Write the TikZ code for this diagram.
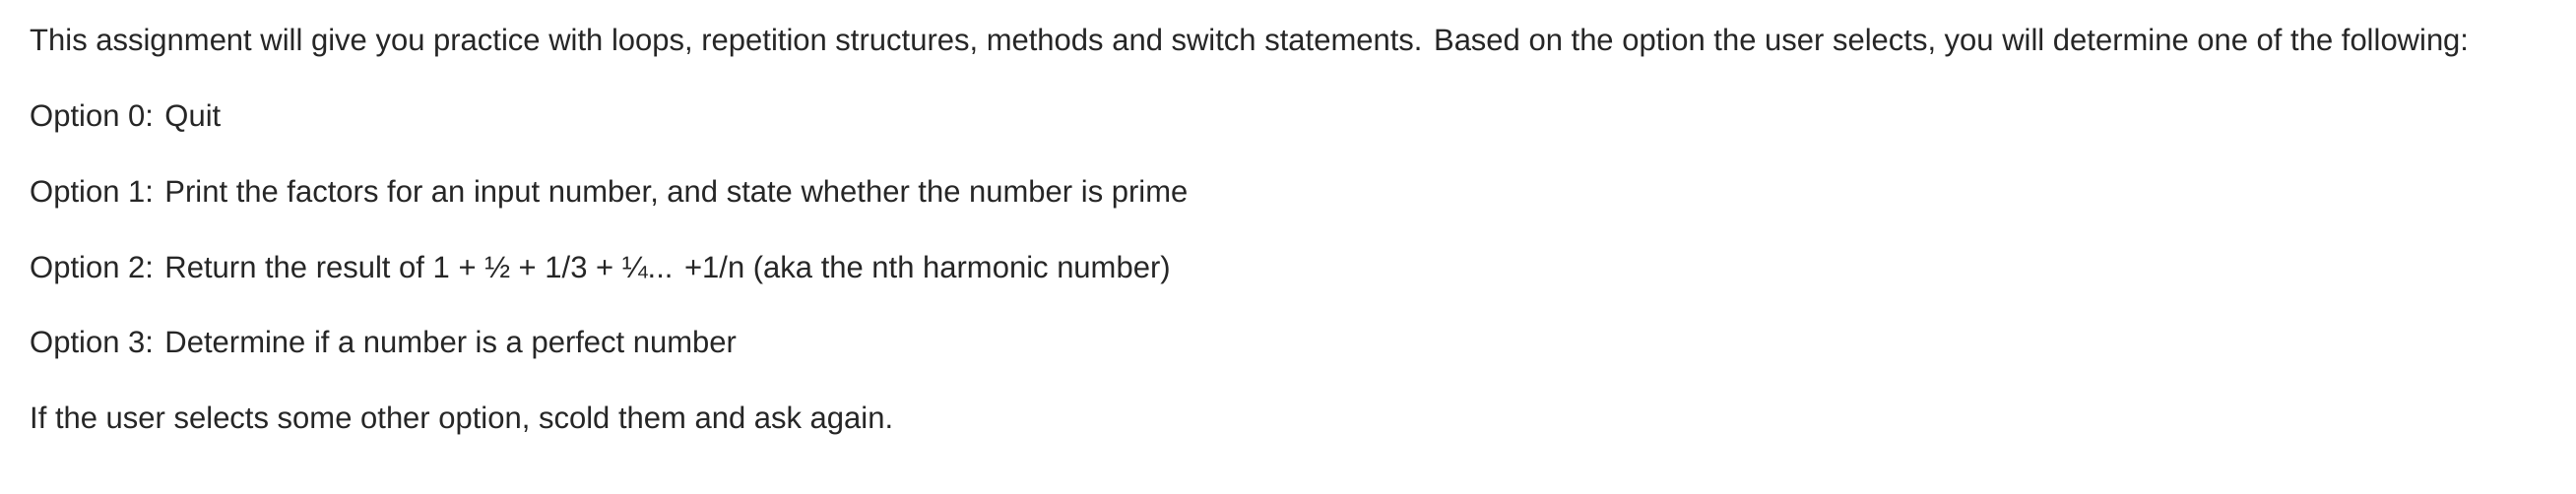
\documentclass[tikz,border=0pt]{standalone}
\usepackage{fontspec}
\setmainfont{Liberation Sans}
\begin{document}
\begin{tikzpicture}[x=1pt,y=1pt,txt/.style={anchor=west,inner sep=0pt,font=\fontsize{31}{36}\selectfont,text=black!85}]
\useasboundingbox (0,0) rectangle (2616,-502);
\node[txt] (l1) at (30,-43) {This assignment will give you practice with loops, repetition structures, methods and switch statements. Based on the option the user selects, you will determine one of the following:};
\node[txt] (l2) at (30,-120) {Option 0: Quit};
\node[txt] (l3) at (30,-197) {Option 1: Print the factors for an input number, and state whether the number is prime};
\node[txt] (l4) at (30,-274) {Option 2: Return the result of 1 + ½ + 1/3 + ¼... +1/n (aka the nth harmonic number)};
\node[txt] (l5) at (30,-350) {Option 3: Determine if a number is a perfect number};
\node[txt] (l6) at (30,-427) {If the user selects some other option, scold them and ask again.};
\end{tikzpicture}
\end{document}
